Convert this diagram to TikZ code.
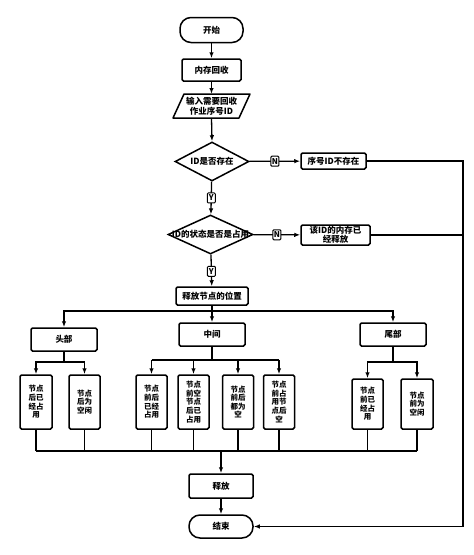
\documentclass[tikz,border=0pt]{standalone}
\usepackage{fontspec}
\setmainfont{Noto Sans CJK SC}
\usetikzlibrary{shapes.geometric,arrows.meta}
\newcommand{\fmain}{\fontsize{8.5}{10}\selectfont\bfseries}
\newcommand{\fsmall}{\fontsize{7.5}{8.6}\selectfont\bfseries}
\tikzset{
  box/.style={draw, line width=1.5pt, rounded corners=1.5pt, align=center, inner sep=0pt, font=\fmain},
  term/.style={box, rounded corners=11pt},
  kid/.style={box, font=\fsmall, minimum width=31, minimum height=54},
  dia/.style={draw, diamond, line width=1.5pt, inner sep=0pt},
  yn/.style={draw, line width=1pt, rounded corners=1pt, fill=white, inner sep=0.8pt, font=\fontsize{8}{8}\selectfont\bfseries, minimum width=8, minimum height=10},
  arr/.style={line width=1.3pt, -{Latex[length=6pt,width=4.5pt]}},
  ln/.style={line width=1.3pt}
}
\begin{document}
\begin{tikzpicture}[x=1pt,y=-1pt]
\useasboundingbox (0,0) rectangle (474,555);
\node[term, minimum width=63, minimum height=25] (start) at (211.5,30) {开始};
\node[box, minimum width=59, minimum height=22] (mem) at (211.5,70) {内存回收};
\node[align=center, inner sep=0pt, font=\fmain, minimum width=66, minimum height=24] (inp) at (211.5,106) {输入需要回收\\作业序号ID};
\draw[line width=1.5pt, line join=round] (184,94) -- (250,94) -- (239,118) -- (173,118) -- cycle;
\node[dia, minimum width=74, minimum height=39, label={[font=\fmain]center:ID是否存在}] (d1) at (212,161.5) {};
\node[box, minimum width=65, minimum height=16] (nx1) at (333.5,161) {序号ID不存在};
\node[dia, minimum width=85, minimum height=39, label={[font=\fmain]center:ID的状态是否是占用}] (d2) at (210.5,234.5) {};
\node[box, minimum width=69, minimum height=20, font=\fontsize{8.5}{9}\selectfont\bfseries] (nx2) at (335.5,235) {该ID的内存已\\经释放};
\node[box, minimum width=72, minimum height=18] (pos) at (212,296) {释放节点的位置};
\node[box, minimum width=66, minimum height=23] (head) at (64,339.5) {头部};
\node[box, minimum width=66, minimum height=23] (mid) at (212,334.5) {中间};
\node[box, minimum width=66, minimum height=23] (tail) at (393,334.5) {尾部};
\node[kid, minimum width=32] (h1) at (36,402) {节点\\后已\\经占\\用};
\node[kid] (h2) at (84.5,402) {节点\\后为\\空闲};
\node[kid] (m1) at (151.5,402) {节点\\前后\\已经\\占用};
\node[kid] (m2) at (193.5,402) {节点\\前空\\节点\\后已\\占用};
\node[kid] (m3) at (238,402) {节点\\前后\\都为\\空};
\node[kid] (m4) at (279,402) {节点\\前占\\用节\\点后\\空};
\node[kid, minimum height=50] (t1) at (367.5,404) {节点\\前已\\经占\\用};
\node[kid, minimum width=32, minimum height=50] (t2) at (417,404) {节点\\前为\\空闲};
\node[box, minimum width=64, minimum height=24] (rel) at (221,486) {释放};
\node[term, minimum width=64, minimum height=23] (end) at (221,526.5) {结束};
% main flow
\draw[arr] (start) -- (mem);
\draw[arr] (mem) -- (inp.north |- 0,94);
\draw[arr] (inp.south |- 0,118) -- (d1.north);
\draw[arr] (d1) -- node[yn]{N} (nx1);
\draw[arr] (d1) -- node[yn]{Y} (d2);
\draw[arr] (d2) -- node[yn]{N} (nx2);
\draw[arr] (d2) -- node[yn, pos=0.53]{Y} (pos);
% position branch
\coordinate (b1) at (212,311);
\draw[ln] (pos) -- (b1);
\draw[arr] (b1) -| (head);
\draw[arr] (b1) -| (tail);
\draw[arr] (b1) -- (mid);
% head branch
\coordinate (bh) at (64,362);
\draw[ln] (head) -- (bh);
\draw[arr] (bh) -| (h1);
\draw[arr] (bh) -| (h2);
% mid branch
\coordinate (bm) at (212,360);
\draw[ln] (mid) -- (bm);
\draw[ln] (m1.north |- bm) -- (m4.north |- bm);
\foreach \k in {m1,m2,m3,m4} \draw[arr] (\k.north |- bm) -- (\k.north);
% tail branch
\coordinate (bt) at (393,362);
\draw[ln] (tail) -- (bt);
\draw[arr] (bt) -| (t1);
\draw[arr] (bt) -| (t2);
% merge
\coordinate (mg) at (221,451);
\foreach \k in {h1,h2,m1,m2,m3,m4,t1,t2} \draw[ln] (\k.south) -- (\k.south |- mg);
\draw[ln] (h1.south |- mg) -- (t2.south |- mg);
\draw[arr] (mg) -- (rel);
\draw[arr] (rel) -- (end);
% right return
\coordinate (rt) at (463,161);
\draw[arr] (nx1.east) -- (rt) |- (end.east);
\draw[ln] (nx2.east) -- (nx2.east -| rt);
\end{tikzpicture}
\end{document}
